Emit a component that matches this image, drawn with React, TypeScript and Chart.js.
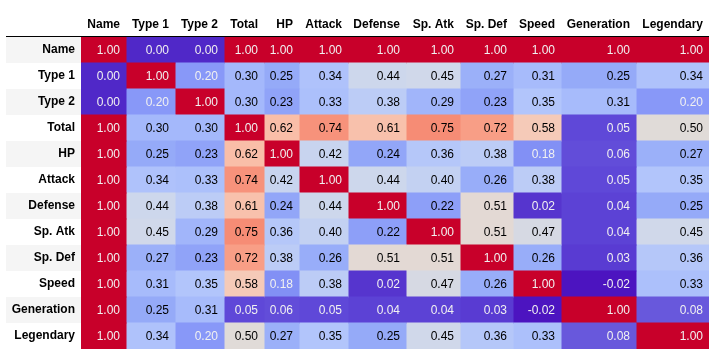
import React, { useEffect, useRef } from "react";
import { Chart, registerables } from "chart.js";

Chart.register(...registerables);

// ---- data ----
const FEATURES = ["Name", "Type 1", "Type 2", "Total", "HP", "Attack", "Defense", "Sp. Atk", "Sp. Def", "Speed", "Generation", "Legendary"];

const rowName = [1.0, 0.0, 0.0, 1.0, 1.0, 1.0, 1.0, 1.0, 1.0, 1.0, 1.0, 1.0];
const rowType1 = [0.0, 1.0, 0.2, 0.3, 0.25, 0.34, 0.44, 0.45, 0.27, 0.31, 0.25, 0.34];
const rowType2 = [0.0, 0.2, 1.0, 0.3, 0.23, 0.33, 0.38, 0.29, 0.23, 0.35, 0.31, 0.2];
const rowTotal = [1.0, 0.3, 0.3, 1.0, 0.62, 0.74, 0.61, 0.75, 0.72, 0.58, 0.05, 0.5];
const rowHP = [1.0, 0.25, 0.23, 0.62, 1.0, 0.42, 0.24, 0.36, 0.38, 0.18, 0.06, 0.27];
const rowAttack = [1.0, 0.34, 0.33, 0.74, 0.42, 1.0, 0.44, 0.4, 0.26, 0.38, 0.05, 0.35];
const rowDefense = [1.0, 0.44, 0.38, 0.61, 0.24, 0.44, 1.0, 0.22, 0.51, 0.02, 0.04, 0.25];
const rowSpAtk = [1.0, 0.45, 0.29, 0.75, 0.36, 0.4, 0.22, 1.0, 0.51, 0.47, 0.04, 0.45];
const rowSpDef = [1.0, 0.27, 0.23, 0.72, 0.38, 0.26, 0.51, 0.51, 1.0, 0.26, 0.03, 0.36];
const rowSpeed = [1.0, 0.31, 0.35, 0.58, 0.18, 0.38, 0.02, 0.47, 0.26, 1.0, -0.02, 0.33];
const rowGeneration = [1.0, 0.25, 0.31, 0.05, 0.06, 0.05, 0.04, 0.04, 0.03, -0.02, 1.0, 0.08];
const rowLegendary = [1.0, 0.34, 0.2, 0.5, 0.27, 0.35, 0.25, 0.45, 0.36, 0.33, 0.08, 1.0];

const MATRIX = [rowName, rowType1, rowType2, rowTotal, rowHP, rowAttack, rowDefense, rowSpAtk, rowSpDef, rowSpeed, rowGeneration, rowLegendary];

// ---- style ----
const FONT = '"Liberation Sans", Arial, Helvetica, sans-serif';
const COLOR_STOPS: [number, string][] = [
  [-0.02, "#4c14c0"],
  [0.0, "#5028c8"],
  [0.05, "#5f48d8"],
  [0.08, "#6858dc"],
  [0.18, "#8290f5"],
  [0.2, "#8898f8"],
  [0.25, "#95aaf8"],
  [0.3, "#a4b8fb"],
  [0.35, "#b2c5fb"],
  [0.4, "#c3d1f2"],
  [0.45, "#d0d8ea"],
  [0.5, "#e0dbd8"],
  [0.58, "#f5cab8"],
  [0.62, "#f9bea8"],
  [0.72, "#f89e86"],
  [0.75, "#f68c75"],
  [1.0, "#c8002a"],
];

function hexRgb(h: string): number[] {
  return [1, 3, 5].map((i) => parseInt(h.slice(i, i + 2), 16));
}

function colorFor(v: number): string {
  const s = COLOR_STOPS;
  if (v <= s[0][0]) return s[0][1];
  for (let i = 1; i < s.length; i++) {
    if (v <= s[i][0]) {
      const t = (v - s[i - 1][0]) / (s[i][0] - s[i - 1][0]);
      const a = hexRgb(s[i - 1][1]);
      const b = hexRgb(s[i][1]);
      const c = a.map((x, k) => Math.round(x + (b[k] - x) * t));
      return `rgb(${c[0]},${c[1]},${c[2]})`;
    }
  }
  return s[s.length - 1][1];
}

function textColorFor(v: number): string {
  return v < 0.21 || v > 0.9 ? "#f1f1f1" : "#000000";
}

export default function App() {
  const ref = useRef<HTMLCanvasElement>(null);

  useEffect(() => {
    const canvas = ref.current;
    if (!canvas) return;
    const W = 728;
    const H = 360;
    const pad = 6;
    const leftEdge = 6;
    const topPad = 37;
    const bottomPad = 11;

    const m = document.createElement("canvas").getContext("2d")!;
    m.font = `bold 12px ${FONT}`;
    const headW = FEATURES.map((f) => m.measureText(f).width);
    m.font = `12px ${FONT}`;
    const valW = FEATURES.map((_, c) => Math.max(...MATRIX.map((r) => m.measureText(r[c].toFixed(2)).width)));
    const raw = FEATURES.map((_, c) => Math.max(headW[c], valW[c]) + 2 * pad);
    const rowHeadW = Math.floor(Math.max(...headW) + 2 * pad);
    let cum = 0;
    const bounds = [0];
    raw.forEach((w) => {
      cum += w;
      bounds.push(Math.round(cum));
    });
    const colW = raw.map((_, i) => bounds[i + 1] - bounds[i]);
    const total = bounds[bounds.length - 1];
    const chartLeft = leftEdge + rowHeadW;
    const rightPad = W - chartLeft - total;

    const datasets = FEATURES.map((f, c) => ({
      label: f,
      data: MATRIX.map(() => colW[c]),
      backgroundColor: MATRIX.map((r) => colorFor(r[c])),
      borderWidth: 0,
      barPercentage: 1,
      categoryPercentage: 1,
      inflateAmount: 0.5,
    }));

    const tablePlugin = {
      id: "tablePlugin",
      beforeDraw(chart: any) {
        const ctx = chart.ctx;
        const y = chart.scales.y;
        const ca = chart.chartArea;
        const rowH = y.getPixelForValue(1) - y.getPixelForValue(0);
        ctx.save();
        ctx.fillStyle = "#ffffff";
        ctx.fillRect(0, 0, W, H);
        ctx.fillStyle = "#f5f5f5";
        FEATURES.forEach((_, r) => {
          if (r % 2 === 0) {
            const cy = y.getPixelForValue(r);
            ctx.fillRect(leftEdge, cy - rowH / 2, ca.left - leftEdge, rowH);
          }
        });
        ctx.restore();
      },
      afterDatasetsDraw(chart: any) {
        const ctx = chart.ctx;
        const ca = chart.chartArea;
        ctx.save();
        ctx.textAlign = "right";
        ctx.textBaseline = "middle";
        // cell values
        ctx.font = `12px ${FONT}`;
        FEATURES.forEach((_, c) => {
          const meta = chart.getDatasetMeta(c);
          meta.data.forEach((el: any, r: number) => {
            const v = MATRIX[r][c];
            ctx.fillStyle = textColorFor(v);
            ctx.fillText(v.toFixed(2), Math.round(el.x) - pad, el.y + 1);
          });
        });
        // column headers
        ctx.font = `bold 12px ${FONT}`;
        ctx.fillStyle = "#000000";
        FEATURES.forEach((f, c) => {
          const el = chart.getDatasetMeta(c).data[0];
          ctx.fillText(f, Math.round(el.x) - pad, ca.top - 12.5);
        });
        // header rule
        ctx.fillStyle = "#000000";
        ctx.fillRect(leftEdge, ca.top - 1, ca.right - leftEdge, 1);
        ctx.restore();
      },
    };

    const chart = new Chart(canvas, {
      type: "bar",
      data: { labels: FEATURES, datasets },
      options: {
        indexAxis: "y",
        animation: false,
        responsive: false,
        devicePixelRatio: 1,
        events: [],
        layout: { padding: { left: leftEdge, right: rightPad, top: topPad, bottom: bottomPad } },
        plugins: { legend: { display: false }, tooltip: { enabled: false } },
        scales: {
          x: { type: "linear", stacked: true, min: 0, max: total, display: false },
          y: {
            type: "category",
            stacked: true,
            grid: { display: false, drawTicks: false },
            border: { display: false },
            ticks: {
              color: "#000000",
              padding: pad,
              font: { family: FONT, size: 12, weight: "bold" },
            },
            afterFit: (scale: any) => {
              scale.width = rowHeadW;
              scale.paddingTop = 0;
              scale.paddingBottom = 0;
            },
          },
        },
      },
      plugins: [tablePlugin],
    } as any);

    return () => chart.destroy();
  }, []);

  return <canvas ref={ref} width={728} height={360} style={{ position: "absolute", left: 0, top: 0 }} />;
}
